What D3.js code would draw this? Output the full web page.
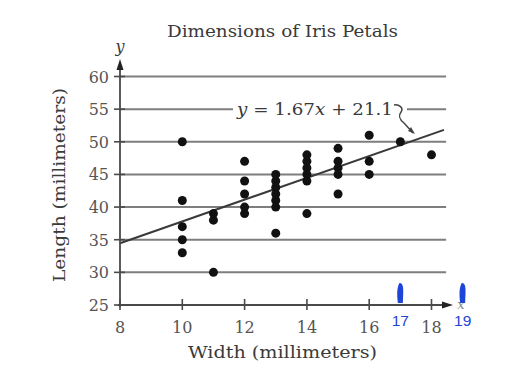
<!DOCTYPE html>
<html><head><meta charset="utf-8">
<script src="https://cdn.jsdelivr.net/npm/d3@7"></script>
<style>html,body{margin:0;padding:0;background:#fff;}svg{display:block;}</style>
</head><body>
<script>
// Data
const widths  = [10,10,10,10,10, 11,11,11, 12,12,12,12,12, 13,13,13,13,13,13,13, 14,14,14,14,14,14, 15,15,15,15,15, 16,16,16, 17, 18];
const lengths = [50,41,37,35,33, 39,38,30, 47,44,42,40,39, 45,44,43,42,41,40,36, 48,47,46,45,44,39, 49,47,46,45,42, 51,47,45, 50, 48];
const xTicks = [8,10,12,14,16,18];
const yTicks = [25,30,35,40,45,50,55,60];
const gridValues = [30,35,40,45,50,55,60];
const slope = 1.67, intercept = 21.1;
const lineRange = [8, 18.4];
const annotations = ["17","19"];
const annotationX = [17, 19];

const W = 512, H = 384;
const svg = d3.select("body").append("svg").attr("width", W).attr("height", H);
const x = d3.scaleLinear().domain([8,18]).range([120,431.5]);
const y = d3.scaleLinear().domain([25,60]).range([305,76.5]);
const serif = "'DejaVu Serif','Liberation Serif',serif";
const textCol = "#3a3a3a";

// gridlines
svg.append("g").selectAll("line").data(gridValues).join("line")
  .attr("x1", x(8)).attr("x2", x(18.47))
  .attr("y1", d=>y(d)).attr("y2", d=>y(d))
  .attr("stroke", "#7e7e7e").attr("stroke-width", 2);

// regression line
svg.append("line")
  .attr("x1", x(lineRange[0])).attr("y1", y(slope*lineRange[0]+intercept))
  .attr("x2", x(lineRange[1])).attr("y2", y(slope*lineRange[1]+intercept))
  .attr("stroke", "#3a3a3a").attr("stroke-width", 2);

// label background gap on 55 line
svg.append("rect").attr("x", 233).attr("y", y(55)-5).attr("width", 174).attr("height", 10).attr("fill", "#fff");

// points
svg.append("g").selectAll("circle").data(widths.map((w,i)=>[w,lengths[i]])).join("circle")
  .attr("cx", d=>x(d[0])).attr("cy", d=>y(d[1])).attr("r", 4.5).attr("fill", "#111");

// equation label
const eq = svg.append("text").attr("x", 237).attr("y", y(55)+5.5)
  .attr("font-family", serif).attr("font-size", 16.5).attr("fill", textCol)
  .attr("textLength", 156).attr("lengthAdjust", "spacingAndGlyphs");
eq.append("tspan").attr("font-style","italic").text("y");
eq.append("tspan").text(" = 1.67");
eq.append("tspan").attr("font-style","italic").text("x");
eq.append("tspan").text(" + 21.1");

// squiggle leader
svg.append("path")
  .attr("d", "M394,105 C399,104 404,108 401,112 C398,116 399,119 404,123 L413,133")
  .attr("fill","none").attr("stroke","#444").attr("stroke-width",1.5);
svg.append("path").attr("d","M408,131 L415,134 L411,127 Z").attr("fill","#444");

// axes
const axisCol = "#4a4a4a";
svg.append("line").attr("x1", x(8)).attr("x2", x(8)).attr("y1", y(25)+2).attr("y2", 66)
  .attr("stroke", axisCol).attr("stroke-width", 1.8);
svg.append("path").attr("d", `M${x(8)-3.5},70 L${x(8)},59 L${x(8)+3.5},70 Z`).attr("fill", "#222");
svg.append("line").attr("x1", x(8)-2).attr("x2", 445).attr("y1", y(25)).attr("y2", y(25))
  .attr("stroke", axisCol).attr("stroke-width", 1.8);
svg.append("path").attr("d", `M442,${y(25)-3.5} L453,${y(25)} L442,${y(25)+3.5} Z`).attr("fill", "#222");

// y ticks
svg.append("g").selectAll("line").data(yTicks).join("line")
  .attr("x1", x(8)-6).attr("x2", x(8)+5).attr("y1", d=>y(d)).attr("y2", d=>y(d))
  .attr("stroke", axisCol).attr("stroke-width", 1.6);
svg.append("g").selectAll("text").data(yTicks).join("text")
  .attr("x", 109).attr("y", d=>y(d)+6).attr("text-anchor","end")
  .attr("font-family", serif).attr("font-size", 16).attr("fill", "#555").text(d=>d);
// x ticks
svg.append("g").selectAll("line").data(xTicks).join("line")
  .attr("x1", d=>x(d)).attr("x2", d=>x(d)).attr("y1", y(25)-6).attr("y2", y(25)+5)
  .attr("stroke", axisCol).attr("stroke-width", 1.6);
svg.append("g").selectAll("text").data(xTicks).join("text")
  .attr("x", d=>x(d)).attr("y", 333).attr("text-anchor","middle")
  .attr("font-family", serif).attr("font-size", 16).attr("fill", "#555").text(d=>d);

// axis letters
svg.append("text").attr("x", 120).attr("y", 52).attr("text-anchor","middle")
  .attr("font-family", serif).attr("font-style","italic").attr("font-size", 16).attr("fill", textCol).text("y");
svg.append("text").attr("x", 461).attr("y", 309).attr("text-anchor","middle")
  .attr("font-family", serif).attr("font-style","italic").attr("font-size", 13).attr("fill", "#888").text("x");

// titles
svg.append("text").attr("x", 167).attr("y", 37)
  .attr("font-family", serif).attr("font-size", 16).attr("fill", textCol)
  .attr("textLength", 231).attr("lengthAdjust","spacingAndGlyphs").text("Dimensions of Iris Petals");
svg.append("text").attr("x", 188).attr("y", 358)
  .attr("font-family", serif).attr("font-size", 16).attr("fill", textCol)
  .attr("textLength", 189).attr("lengthAdjust","spacingAndGlyphs").text("Width (millimeters)");
svg.append("text").attr("transform", "translate(65,282) rotate(-90)")
  .attr("font-family", serif).attr("font-size", 16).attr("fill", textCol)
  .attr("textLength", 194).attr("lengthAdjust","spacingAndGlyphs").text("Length (millimeters)");

// blue handwritten annotations
const blue = "#1f45d8";
svg.append("g").selectAll("path").data(annotationX).join("path")
  .attr("d", d=>{const cx=x(d); return `M${cx-1},283 C${cx+4},283 ${cx+3},290 ${cx+2.5},303 L${cx-2.5},303 C${cx-3.5},294 ${cx-3.5},288 ${cx-1},283 Z`;})
  .attr("fill", blue);
svg.append("g").selectAll("text").data(annotationX).join("text")
  .attr("x", d=>x(d)).attr("y", 326).attr("text-anchor","middle")
  .attr("font-family","'Liberation Sans',Arial,sans-serif").attr("font-size", 15.5).attr("fill", blue)
  .text((d,i)=>annotations[i]);
</script>
</body></html>
